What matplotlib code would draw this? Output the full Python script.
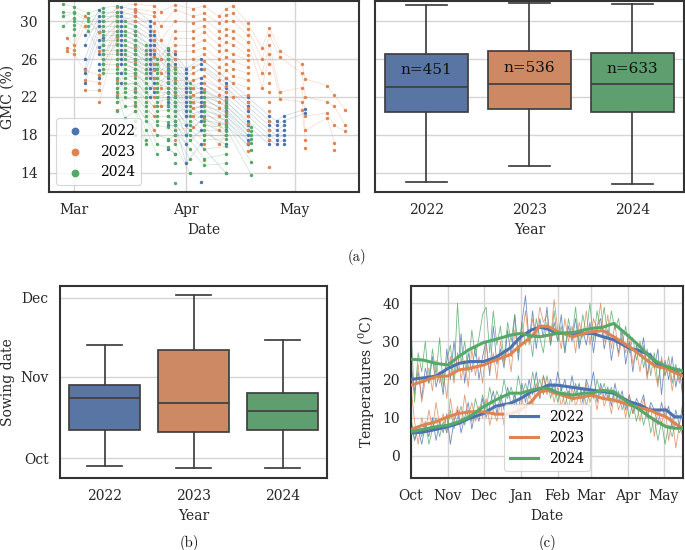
import numpy as np
import matplotlib
matplotlib.use('Agg')
import matplotlib.pyplot as plt
import matplotlib.dates as mdates
from datetime import datetime

plt.rcParams['font.family'] = ['DejaVu Serif']
plt.rcParams['mathtext.fontset'] = 'dejavuserif'
plt.rcParams['font.size'] = 10

years = ['2022', '2023', '2024']
line_colors = ['#4C72B0', '#DD8452', '#55A868']
box_colors = ['#5975A4', '#CC8963', '#5F9E6E']

# ---------------- (a) GMC sampling: days after 1 March, GMC (%) per sampling date
gmc_days_2022 = [3, 7, 8, 13, 17, 21, 22, 26, 28, 31, 35, 42, 48, 54, 56, 58, 64]
gmc_vals_2022 = [
    [28.5, 27.5, 26, 25, 24.5, 23.5],
    [31.2, 30.5, 30, 29.5, 28.8, 28, 27.3, 26.5, 25.5, 24.8, 24],
    [30.5, 30, 29, 28.2, 27.5, 26.5, 25.5],
    [31.5, 31, 30.5, 30, 29.5, 29, 28.5, 28, 27.5, 27, 26.5, 26, 25.5, 24.5, 23.5],
    [31.2, 30.5, 30, 29.5, 29, 28.5, 28, 27.5, 27, 26.5, 26, 25.5, 25, 24.5, 23.5, 22.5],
    [30, 29.5, 29, 28.5, 28, 27.5, 27, 26.5, 26, 25.5, 25, 24.5, 24, 23, 22],
    [28.5, 28, 27.5, 27, 26.5, 25.5, 25, 24, 23.5, 22.5],
    [27, 26.5, 26, 25.5, 25, 24.5, 24, 23.5, 23, 22.5, 22, 21.5, 21, 20, 19, 17.5, 16.5],
    [26.5, 26, 25.5, 25, 24.5, 24, 23.5, 23, 22.5, 22, 21.5, 21, 20.5, 19.5, 19, 18, 16],
    [25, 24.5, 24, 23.5, 23, 22.5, 22, 21.5, 21, 20.5, 20, 19, 18, 17, 15],
    [26, 25.5, 25, 24, 23.5, 23, 22.5, 22, 21.5, 21, 20.5, 20, 19.5, 18.5, 17, 13],
    [24, 23.5, 23, 22.5, 22, 21.5, 21, 20.5, 20, 19.5, 19, 18.5, 18, 17, 14],
    [22, 21.5, 21, 20.5, 20, 19.5, 19, 18.5, 18, 17.5, 17],
    [20, 19.5, 19, 18.5, 18, 17.5, 17],
    [19.5, 19, 18.5, 18, 17.5, 17],
    [20, 19.5, 19, 18.5, 18, 17.5, 17],
    [20.7, 20.3],
]
gmc_days_2023 = [-2, 0, 3, 7, 12, 17, 22, 24, 28, 33, 36, 40, 42, 44, 48, 52, 54, 57, 63, 64, 70, 72, 75]
gmc_vals_2023 = [
    [28.2, 27.2, 26.8],
    [27.5, 27.0, 26.5],
    [30.5, 29.5, 24.8, 23.8, 22.7],
    [28.8, 26.8, 24.3, 23.5, 22.7, 21.5],
    [31.5, 31, 30.5, 30, 29, 28.3, 27.6, 26.8, 26, 25.3, 24.5, 23.8, 23, 22.2, 21.5, 20.6],
    [31.8, 31.3, 31, 30.5, 30, 29, 28, 27.3, 26.5, 25.8, 25, 24.3, 23.5, 22.8, 22, 21.2, 20.5, 19.5, 18.7],
    [31.6, 31, 30.5, 29.8, 29, 28, 27, 26.2, 25.5, 24.8, 24, 23, 22, 21, 20, 18.5],
    [31, 29.5, 28, 26, 24.5, 23, 21],
    [31.7, 31.2, 30, 29, 28.2, 27.5, 26.8, 26, 25.2, 24.5, 23.8, 23, 22.2, 21.5, 20.5, 19.5, 18.5, 17.5],
    [31.3, 30.5, 29.8, 29, 28.2, 27.5, 26.8, 26, 25.2, 24.5, 23.8, 23, 22.2, 21.5, 20.8, 20, 18.8],
    [31.6, 30.8, 30.2, 29.5, 28.8, 28, 27.2, 26.5, 25.8, 25, 24.2, 23.5, 22.8, 22, 21.2, 20.5, 19.8, 19, 18, 17, 15.4],
    [30.5, 29.8, 29, 28.2, 27.5, 26.8, 26, 25.2, 24.5, 23.8, 23, 22.2, 21.5, 20.8, 20, 19.2, 18.5, 17],
    [31.3, 30.6, 30, 29.2, 28.5, 27.8, 27, 26.2, 25.5, 24.8, 24, 23.2, 22.5, 21.8, 21, 20.2, 19.5, 18],
    [31.6, 30.8, 30, 29, 28.2, 27.5, 26.5, 25.8, 25, 24.2, 23.5, 22],
    [29.8, 29.2, 28.5, 27.8, 27, 26.4, 25.9, 25.2, 24.5, 23.8, 23, 22.2, 21.5, 20.8, 20, 19.2, 18.5, 17.2, 16.3],
    [27.2, 26, 24.5, 23],
    [29.3, 28.5, 27.5, 26.5, 25.5, 24.5, 23.5, 22.5, 21.5, 20.5, 19.5, 18.5, 17.5, 14.6],
    [26.8, 26.2, 22.5, 21.8],
    [25.5, 24.5, 23, 21.5, 20.6],
    [23.9, 22, 20, 18.5, 17.5, 16.6],
    [23.2, 21.5, 20.3, 19.8],
    [22.2, 21, 19, 17.2, 16.4],
    [20.6, 19, 18.4],
]
gmc_days_2024 = [-3, 0, 4, 8, 12, 14, 17, 20, 23, 26, 28, 32, 36, 42, 49]
gmc_vals_2024 = [
    [31.8, 31, 30.5, 29.5],
    [31.5, 31, 30.8, 30.3, 30, 29.6, 29.2, 28.5],
    [30.8, 30.3, 30, 29.5, 29],
    [31.4, 31, 30.5, 30, 29.5, 29, 28.5, 28, 27.5, 27, 26.5, 26, 25.5, 25, 24.5],
    [31.6, 31, 30.5, 30, 29.5, 29, 28.5, 28, 27.5, 27, 26.5, 26, 25.5, 25, 24.5, 24, 23.5, 23, 22.5, 22, 21.5, 20.5],
    [30, 29.5, 29, 28.5, 28, 27.5, 27, 26.5, 26, 25.5, 25, 24.5, 24, 23.5, 23, 22.5, 22, 21, 19.8],
    [29.5, 29, 28.5, 28, 27.5, 27, 26.5, 26, 25.5, 25, 24.5, 24, 23.5, 23, 22.5, 22, 21.5, 21, 20.5, 19.5, 18],
    [27.5, 27, 26.5, 26, 25.5, 25, 24.5, 24, 23.5, 23, 22.5, 22, 21.5, 21, 20.5, 20, 19.5, 18.5, 17.5, 17],
    [26, 25.5, 25, 24.5, 24, 23.5, 23, 22.5, 22, 21.5, 21, 20.5, 20, 19.5, 19, 18, 17, 16],
    [27.2, 26.5, 26, 25.3, 24.8, 24.2, 23.6, 23, 22.4, 21.8, 21.2, 20.6, 20, 19.4, 18.8, 17.6, 16.7],
    [25, 24.5, 24, 23.5, 23, 22.5, 22, 21.5, 21, 20.5, 20, 19.5, 19, 18.5, 18, 17, 16, 15, 12.9],
    [23.5, 23, 22.5, 22, 21.5, 21, 20.5, 20, 19.5, 19, 18.5, 18, 17.5, 16.5, 15.5, 14],
    [22.5, 22, 21.5, 21, 20.5, 20, 19.5, 19, 18.5, 18, 17.5, 16.5, 15.5, 14.8],
    [21.6, 21.2, 20.8, 20.4, 20, 19.6, 19.2, 18.8, 18.4, 18, 17.6, 16.8, 16, 15, 14],
    [18.8, 18.4, 18, 17.6, 17.2, 16.4, 15.2, 13.8],
]

# (a) right: GMC box statistics
gmc_q1 = [20.4, 20.7, 20.4]
gmc_med = [23.1, 23.4, 23.4]
gmc_q3 = [26.5, 26.8, 26.6]
gmc_lo = [13.0, 14.7, 12.85]
gmc_hi = [31.7, 31.9, 31.8]
gmc_n = [451, 536, 633]

# ---------------- (b) sowing date, days after 1 October
sow_lo = [-2.9, -3.9, -3.9]
sow_q1 = [10.7, 9.9, 10.7]
sow_med = [23.0, 20.9, 17.8]
sow_q3 = [27.8, 40.9, 24.9]
sow_hi = [42.9, 62.0, 44.8]

# ---------------- (c) temperatures, days after 1 October
temp_days = list(range(0, 229, 3))
tmax_2022 = [24,17,22,15,23,19,26,18,22,16, 28,20,30,22,32,19,27,22,29,20,
             26,30,21,34,24,28,23,33,26,37, 25,35,42,30,38,28,36,31,39,29,
             35,30,37,27,34,30,36,28,33,29, 35,27,34,36,28,33,25,31,27,33,
             24,30,22,29,26,31,21,27,23,28, 16,25,20,26,18,23,15]
tmax_2023 = [21,16,24,14,20,23,17,25,19,22, 15,26,19,27,20,25,18,28,21,26,
             19,29,22,27,20,30,24,28,22,33, 27,31,38,29,36,31,39,35,37,30,
             41,33,28,36,30,34,27,35,31,38, 29,36,33,40,30,37,28,35,26,31,
             27,32,24,28,22,29,20,26,23,18, 26,21,24,17,23,19,24]
tmax_2024 = [34,14,27,22,30,19,28,21,31,18, 25,29,20,40,24,30,22,33,26,31,
             37,39,27,38,29,34,25,35,30,37, 27,35,29,33,26,36,31,27,35,29,
             38,30,34,27,36,31,39,29,37,32, 40,30,38,33,39,31,38,33,36,29,
             34,27,31,25,30,23,28,21,27,19, 25,21,26,19,24,20,23]
tmin_2022 = [9,4,7,3,8,5,10,4,9,6, 11,3,9,12,6,10,14,7,12,9,
             15,10,13,17,11,16,12,18,13,16, 11,19,14,20,16,22,15,21,17,20,
             16,22,17,20,15,21,16,19,14,20, 17,22,14,19,15,18,13,19,14,17,
             12,16,11,15,13,16,10,14,12,8, 14,10,13,7,12,8,14]
tmin_2023 = [18,9,3,10,6,12,7,14,8,11, 6,15,9,13,8,16,10,14,9,13,
             10,15,8,12,9,14,8,12,10,14, 9,15,11,17,13,19,15,21,16,19,
             14,18,13,17,12,18,13,16,12,19, 14,17,12,18,13,16,11,17,12,15,
             10,16,11,14,9,15,10,13,5,12, 8,13,4,10,2,8,5]
tmin_2024 = [10,4,8,5,9,3,7,10,5,9, 6,12,7,10,13,8,12,9,15,11,
             16,12,18,13,17,14,20,15,18,14, 21,16,19,15,22,17,20,16,21,15,
             19,14,18,13,17,14,19,15,18,13, 17,15,20,16,19,15,18,14,17,12,
             15,10,14,9,13,8,12,6,10,4, 9,3,8,5,9,6,8]

smooth_days = [0, 10, 21, 31, 40, 49, 61, 71, 83, 92, 101, 108, 115, 123, 136,
               145, 152, 161, 170, 183, 192, 200, 206, 214, 221, 228]
smax_2022 = [20.0, 20.4, 20.9, 22.9, 24.2, 24.7, 24.7, 25.8, 28.2, 31.2, 33.0, 33.7, 33.2,
             32.1, 32.1, 32.0, 32.1, 31.2, 30.4, 28.2, 27.5, 26.5, 24.2, 23.2, 22.0, 20.9]
smax_2023 = [18.5, 19.5, 20.7, 20.9, 22.5, 22.9, 23.8, 25.1, 26.5, 29.0, 31.2, 34.0, 33.9,
             32.5, 31.2, 32.1, 32.5, 32.8, 31.2, 28.6, 26.5, 24.5, 23.4, 22.9, 21.8, 20.9]
smax_2024 = [25.3, 25.1, 24.2, 23.8, 26.0, 27.9, 29.7, 30.5, 31.6, 32.1, 31.4, 31.2, 31.6,
             32.1, 32.3, 33.0, 33.4, 33.7, 34.7, 31.2, 28.6, 26.0, 24.7, 23.4, 22.8, 22.2]
smin_2022 = [5.9, 6.2, 6.9, 7.6, 8.5, 9.8, 11.1, 13.0, 13.7, 15.0, 16.8, 17.5, 18.5,
             18.5, 17.9, 17.5, 17.2, 16.8, 16.4, 14.2, 13.3, 12.0, 12.0, 12.0, 10.2, 10.2]
smin_2023 = [6.9, 8.0, 8.9, 10.2, 11.1, 11.5, 11.5, 10.9, 10.9, 12.0, 14.2, 16.8, 17.1,
             16.2, 15.0, 15.5, 15.9, 15.0, 14.6, 13.3, 12.5, 12.0, 11.1, 10.2, 8.5, 7.2]
smin_2024 = [6.3, 6.9, 7.6, 8.0, 8.9, 10.2, 12.9, 14.6, 16.4, 16.4, 17.2, 17.7, 17.7,
             16.5, 15.9, 16.4, 16.5, 17.1, 16.8, 13.7, 12.0, 10.2, 9.0, 7.6, 7.2, 7.2]

# ---------------------------------------------------------------------------
spine_col = '#333333'
grid_col = '#d5d5d5'
text_col = '#262626'
FS = 10


def style(ax, xgrid=True, ygrid=True):
    ax.set_facecolor('white')
    for s in ax.spines.values():
        s.set_color(spine_col)
        s.set_linewidth(1.5)
    ax.tick_params(length=0, pad=8, labelsize=FS, colors=text_col)
    ax.set_axisbelow(True)
    if xgrid:
        ax.grid(True, axis='x', color=grid_col, lw=1)
    if ygrid:
        ax.grid(True, axis='y', color=grid_col, lw=1)


fig = plt.figure(figsize=(6.85, 5.5), dpi=100)
axA1 = fig.add_axes([0.0715, 0.651, 0.4526, 0.347])
axA2 = fig.add_axes([0.5474, 0.651, 0.451, 0.347])
axB = fig.add_axes([0.0876, 0.1309, 0.3898, 0.349])
axC = fig.add_axes([0.600, 0.1309, 0.397, 0.349])

# ---------------- (a) left
mar1 = mdates.date2num(datetime(2001, 3, 1))
all_days = [gmc_days_2022, gmc_days_2023, gmc_days_2024]
all_vals = [gmc_vals_2022, gmc_vals_2023, gmc_vals_2024]
for days, vals, col in zip(all_days, all_vals, line_colors):
    for k in range(len(days) - 1):
        a = sorted(vals[k], reverse=True)
        b = sorted(vals[k + 1], reverse=True)
        for i in range(min(len(a), len(b))):
            axA1.plot([mar1 + days[k], mar1 + days[k + 1]], [a[i], b[i]],
                      color=col, lw=0.5, alpha=0.3, zorder=2)
for days, vals, col, yr in zip(all_days, all_vals, line_colors, years):
    xs, ys = [], []
    for d, v in zip(days, vals):
        xs += [mar1 + d] * len(v)
        ys += list(v)
    axA1.scatter(xs, ys, s=6, color=col, linewidths=0, zorder=3, label=yr)
style(axA1)
axA1.set_xlim(mar1 - 6.9, mar1 + 78.8)
axA1.set_ylim(12.0, 32.1)
axA1.set_yticks([14, 18, 22, 26, 30])
axA1.xaxis.set_major_locator(mdates.MonthLocator())
axA1.xaxis.set_major_formatter(mdates.DateFormatter('%b'))
axA1.set_xlabel('Date', color=text_col, fontsize=FS)
axA1.set_ylabel('GMC (%)', color=text_col, fontsize=FS)
leg = axA1.legend(loc='lower left', markerscale=2.3, fontsize=FS,
                  frameon=True, edgecolor='#cccccc', framealpha=0.8)
leg.get_frame().set_linewidth(0.8)

# ---------------- (a) right
stats = [dict(med=m, q1=a, q3=b, whislo=l, whishi=h, fliers=[])
         for m, a, b, l, h in zip(gmc_med, gmc_q1, gmc_q3, gmc_lo, gmc_hi)]
bp = axA2.bxp(stats, positions=[0, 1, 2], widths=0.8, patch_artist=True,
              showfliers=False,
              boxprops=dict(edgecolor='#3f3f3f', linewidth=1.25),
              medianprops=dict(color='#3f3f3f', linewidth=1.25),
              whiskerprops=dict(color='#3f3f3f', linewidth=1.25),
              capprops=dict(color='#3f3f3f', linewidth=1.25))
for patch, c in zip(bp['boxes'], box_colors):
    patch.set_facecolor(c)
for i, n in enumerate(gmc_n):
    axA2.text(i, (gmc_q3[i] + gmc_med[i]) / 2, f'n={n}', ha='center', va='center',
              fontsize=11, color='#111111')
style(axA2, xgrid=False)
axA2.set_xlim(-0.5, 2.5)
axA2.set_ylim(12.0, 32.1)
axA2.set_yticks([14, 18, 22, 26, 30])
axA2.set_yticklabels([])
axA2.set_xticks([0, 1, 2])
axA2.set_xticklabels(years)
axA2.set_xlabel('Year', color=text_col, fontsize=FS)

# ---------------- (b)
oct1 = mdates.date2num(datetime(2001, 10, 1))
stats_b = [dict(med=oct1 + m, q1=oct1 + a, q3=oct1 + b, whislo=oct1 + l,
                whishi=oct1 + h, fliers=[])
           for m, a, b, l, h in zip(sow_med, sow_q1, sow_q3, sow_lo, sow_hi)]
bp = axB.bxp(stats_b, positions=[0, 1, 2], widths=0.8, patch_artist=True,
             showfliers=False,
             boxprops=dict(edgecolor='#3f3f3f', linewidth=1.25),
             medianprops=dict(color='#3f3f3f', linewidth=1.25),
             whiskerprops=dict(color='#3f3f3f', linewidth=1.25),
             capprops=dict(color='#3f3f3f', linewidth=1.25))
for patch, c in zip(bp['boxes'], box_colors):
    patch.set_facecolor(c)
style(axB, xgrid=False)
axB.set_xlim(-0.5, 2.5)
axB.set_ylim(oct1 - 7.6, oct1 + 65.4)
axB.yaxis.set_major_locator(mdates.MonthLocator())
axB.yaxis.set_major_formatter(mdates.DateFormatter('%b'))
axB.set_xticks([0, 1, 2])
axB.set_xticklabels(years)
axB.set_xlabel('Year', color=text_col, fontsize=FS)
axB.set_ylabel('Sowing date', color=text_col, fontsize=FS)

# ---------------- (c)
tmax = [tmax_2022, tmax_2023, tmax_2024]
tmin = [tmin_2022, tmin_2023, tmin_2024]
smax = [smax_2022, smax_2023, smax_2024]
smin = [smin_2022, smin_2023, smin_2024]
tx = [oct1 + d for d in temp_days]
sx = [oct1 + d for d in smooth_days]
for hi, lo, col in zip(tmax, tmin, line_colors):
    axC.plot(tx, hi, color=col, lw=0.6, alpha=0.8, zorder=2)
    axC.plot(tx, lo, color=col, lw=0.6, alpha=0.8, zorder=2)
for hi, lo, col, yr in zip(smax, smin, line_colors, years):
    axC.plot(sx, hi, color=col, lw=2.2, zorder=3, label=yr)
    axC.plot(sx, lo, color=col, lw=2.2, zorder=3)
style(axC)
axC.set_xlim(oct1, oct1 + 228)
axC.set_ylim(-5.85, 44.5)
axC.set_yticks([0, 10, 20, 30, 40])
axC.xaxis.set_major_locator(mdates.MonthLocator())
axC.xaxis.set_major_formatter(mdates.DateFormatter('%b'))
axC.set_xlabel('Date', color=text_col, fontsize=FS)
axC.set_ylabel(r'Temperatures ($^0$C)', color=text_col, fontsize=FS)
leg = axC.legend(loc='lower center', fontsize=FS, frameon=True,
                 edgecolor='#cccccc', framealpha=0.8)
leg.get_frame().set_linewidth(0.8)

# ---------------- captions
for x, y, s in [(0.521, 0.533, '(a)'), (0.277, 0.0127, '(b)'), (0.80, 0.0127, '(c)')]:
    fig.text(x, y, s, ha='center', va='center', fontsize=10.5, family='cmr10',
             color='#111111')

fig.savefig('out.png', dpi=100)
